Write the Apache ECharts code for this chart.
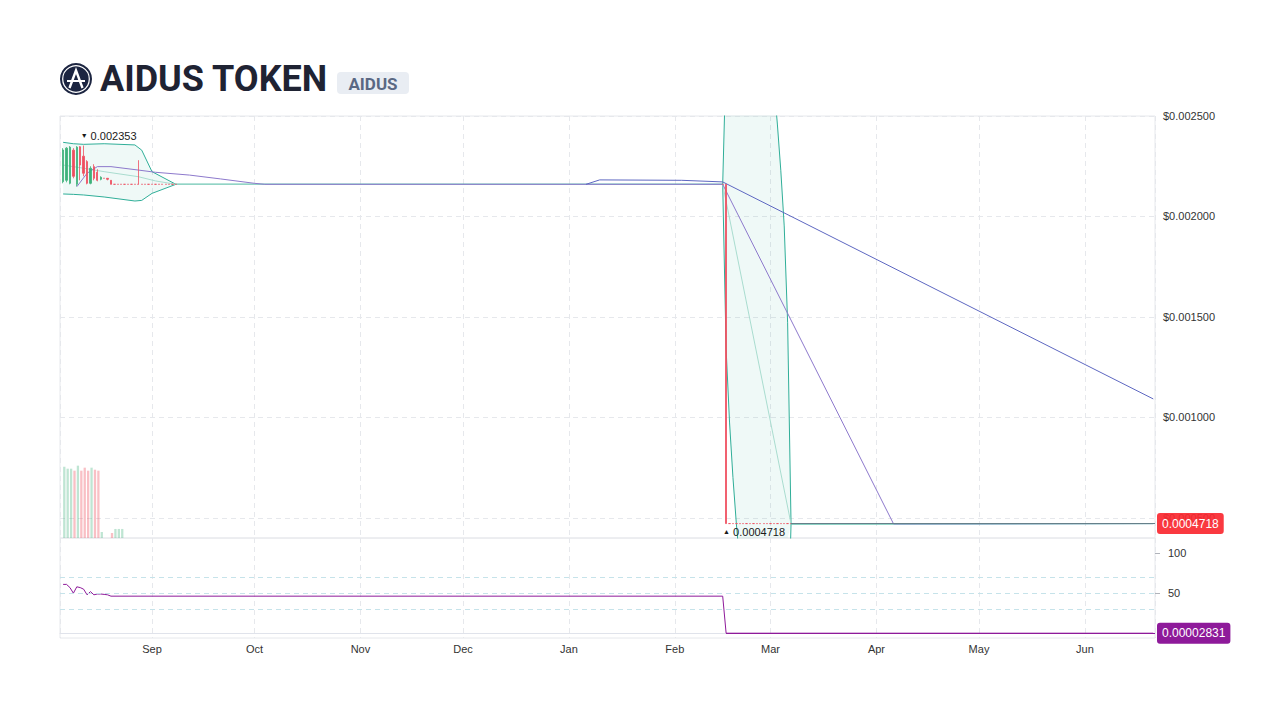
<!DOCTYPE html>
<html><head><meta charset="utf-8">
<script src="https://cdn.jsdelivr.net/npm/echarts@6/dist/echarts.min.js"></script>
<style>html,body{margin:0;padding:0;background:#fff}#c{width:1280px;height:720px}</style>
</head><body><div id="c"></div>
<script>
// ---------- DATA ----------
const title = 'AIDUS TOKEN';
const ticker = 'AIDUS';
const xStart = '2024-08-05 02:00';
const xEnd = '2025-06-21 12:00';
const monthNames = ['Jan','Feb','Mar','Apr','May','Jun','Jul','Aug','Sep','Oct','Nov','Dec'];
const priceTicks = [0.0005, 0.001, 0.0015, 0.002, 0.0025];
const rsiTicks = [50, 100];
const rsiGuides = [30, 50, 70];

// [date, open, close, low, high]
const candles = [
  ['2024-08-06',0.002173,0.002331,0.002165,0.002340],
  ['2024-08-07',0.002180,0.002340,0.002170,0.002345],
  ['2024-08-08',0.002165,0.002345,0.002160,0.002350],
  ['2024-08-09',0.002330,0.002200,0.002190,0.002340],
  ['2024-08-10',0.002160,0.002345,0.002150,0.002350],
  ['2024-08-11',0.002347,0.002256,0.002180,0.002350],
  ['2024-08-12',0.002300,0.002215,0.002200,0.002353],
  ['2024-08-13',0.002273,0.002165,0.002160,0.002280],
  ['2024-08-14',0.002165,0.002240,0.002160,0.002250],
  ['2024-08-15',0.002248,0.002190,0.002180,0.002260],
  ['2024-08-16',0.002220,0.002180,0.002175,0.002235],
  ['2024-08-17',0.002185,0.002195,0.002180,0.002200],
  ['2024-08-18',0.002190,0.002190,0.002190,0.002190],
  ['2024-08-19',0.002190,0.002185,0.002180,0.002190],
  ['2024-08-20',0.002180,0.002160,0.002160,0.002180],
  ['2024-08-21',0.00216,0.00216,0.00216,0.00216],
  ['2024-08-22',0.00216,0.00216,0.00216,0.00216],
  ['2024-08-23',0.00216,0.00216,0.00216,0.00216],
  ['2024-08-24',0.00216,0.00216,0.00216,0.00216],
  ['2024-08-25',0.00216,0.00216,0.00216,0.00216],
  ['2024-08-26',0.00216,0.00216,0.00216,0.00216],
  ['2024-08-27',0.00216,0.00216,0.00216,0.00216],
  ['2024-08-28',0.00216,0.00216,0.00216,0.00228],
  ['2024-08-29',0.00216,0.00216,0.00216,0.00216],
  ['2024-08-30',0.00216,0.00216,0.00216,0.00216],
  ['2024-08-31',0.00216,0.00216,0.00216,0.00216],
  ['2024-09-01',0.00216,0.00216,0.00216,0.00216],
  ['2024-09-02',0.00216,0.00216,0.00216,0.00216],
  ['2024-09-03',0.00216,0.00216,0.00216,0.00216],
  ['2024-09-04',0.00216,0.00216,0.00216,0.00216],
  ['2024-09-05',0.00216,0.00216,0.00216,0.00216],
  ['2024-09-06',0.00216,0.00216,0.00216,0.00216],
  ['2024-09-07',0.00216,0.00216,0.00216,0.00216],
  ['2024-09-08',0.00216,0.00216,0.00216,0.00216],
  ['2025-02-15',0.00216,0.00216,0.00216,0.00216],
  ['2025-02-16',0.00216,0.0004718,0.0004718,0.00216],
  ['2025-02-17',0.0004718,0.0004718,0.0004718,0.0004718],
  ['2025-02-18',0.0004718,0.0004718,0.0004718,0.0004718],
  ['2025-02-19',0.0004718,0.0004718,0.0004718,0.0004718],
  ['2025-02-20',0.0004718,0.0004718,0.0004718,0.0004718],
  ['2025-02-21',0.0004718,0.0004718,0.0004718,0.0004718],
  ['2025-02-22',0.0004718,0.0004718,0.0004718,0.0004718],
  ['2025-02-23',0.0004718,0.0004718,0.0004718,0.0004718],
  ['2025-02-24',0.0004718,0.0004718,0.0004718,0.0004718],
  ['2025-02-25',0.0004718,0.0004718,0.0004718,0.0004718],
  ['2025-02-26',0.0004718,0.0004718,0.0004718,0.0004718],
  ['2025-02-27',0.0004718,0.0004718,0.0004718,0.0004718],
  ['2025-02-28',0.0004718,0.0004718,0.0004718,0.0004718],
  ['2025-03-01',0.0004718,0.0004718,0.0004718,0.0004718],
  ['2025-03-02',0.0004718,0.0004718,0.0004718,0.0004718],
  ['2025-03-03',0.0004718,0.0004718,0.0004718,0.0004718],
  ['2025-03-04',0.0004718,0.0004718,0.0004718,0.0004718],
  ['2025-03-05',0.0004718,0.0004718,0.0004718,0.0004718],
  ['2025-03-06',0.0004718,0.0004718,0.0004718,0.0004718],
  ['2025-03-07',0.0004718,0.0004718,0.0004718,0.0004718]
];

// [date, volume, direction(1 up / -1 down)]
const volumes = [
  ['2024-08-06',71,1],['2024-08-07',69,1],['2024-08-08',69,1],['2024-08-09',67,-1],
  ['2024-08-10',72,1],['2024-08-11',67,-1],['2024-08-12',70,-1],['2024-08-13',67,-1],
  ['2024-08-14',70,1],['2024-08-15',68,-1],['2024-08-16',67,-1],['2024-08-17',6,1],
  ['2024-08-20',5,-1],['2024-08-21',9,1],['2024-08-22',9,1],['2024-08-23',9,1]
];

// Bollinger bands (20, 2)
const bbDates  = ['2024-08-06','2024-08-09','2024-08-12','2024-08-18','2024-08-27','2024-08-29','2024-09-01','2024-09-08',
                  '2025-02-15','2025-02-16','2025-02-17','2025-02-18','2025-02-19','2025-02-20','2025-02-24','2025-02-28',
                  '2025-03-01','2025-03-02','2025-03-03','2025-03-04','2025-03-05','2025-03-06','2025-03-07','2025-06-21'];
const bbUpper  = [0.002369,0.002362,0.002359,0.002362,0.002356,0.002330,0.002223,0.00216,
                  0.00216,0.00281,0.00300,0.00311,0.00317,0.00320,0.00314,0.00267,
                  0.00253,0.002357,0.00216,0.00193,0.001653,0.001291,0.00047,0.0004718];
const bbLower  = [0.002112,0.002110,0.002107,0.002097,0.002077,0.002080,0.002115,0.00216,
                  0.00216,0.00134,0.000977,0.000701,0.00047,0.000274,-0.0003,-0.0003,
                  -0.0003,-0.0003,-0.0003,-0.0003,-0.0003,-0.00018,0.00047,0.0004718];
const bbMidDates = ['2024-08-06','2024-08-12','2024-08-18','2024-08-28','2024-09-02','2024-09-08','2025-02-15','2025-03-07','2025-06-21'];
const bbMiddle   = [0.002256,0.002240,0.002223,0.002198,0.002177,0.00216,0.00216,0.00047,0.0004718];

const ma50Dates = ['2024-08-10','2024-08-13','2024-08-16','2024-08-20','2024-08-28','2024-09-02','2024-09-12','2024-09-21','2024-10-01','2024-10-04','2025-02-15','2025-04-06','2025-06-21'];
const ma50 =      [0.002148,0.002215,0.002248,0.002248,0.002231,0.002220,0.002206,0.002187,0.002165,0.00216,0.00216,0.00047,0.0004718];
const ma200Dates = ['2025-01-06','2025-01-10','2025-02-03','2025-02-15','2025-06-21'];
const ma200 =      [0.00216,0.002182,0.002180,0.002172,0.001092];

const rsiDates = ['2024-08-06','2024-08-07','2024-08-08','2024-08-09','2024-08-10','2024-08-11','2024-08-12','2024-08-13','2024-08-14','2024-08-15','2024-08-16','2024-08-17','2024-08-18','2024-08-19','2024-08-20','2025-02-15','2025-02-16','2025-06-21'];
const rsiVals  = [61,61,57,50,58,57,55,48,52,48,49,49,48.5,48,46.3,46.3,0.00002831,0.00002831];

// ---------- CHART ----------
const P = s => echarts.time.parse(s).getTime();
const L = 60, R = 1280 - 1155, MT = 116, MH = 422, RT = 538, RH = 100;
const DAY = 86400000;
const gridLine = { show: true, lineStyle: { color: '#e6e8ec', type: [5, 4], width: 1 } };
const axisFont = { color: '#333', fontSize: 11, fontFamily: 'Liberation Sans, Arial, sans-serif' };

const xBase = (gi, showLabel) => ({
  type: 'time', gridIndex: gi, min: P(xStart), max: P(xEnd),
  minInterval: 28 * DAY, maxInterval: 31 * DAY, splitNumber: 12,
  axisLine: { show: showLabel, lineStyle: { color: '#e0e3eb' } },
  axisTick: { show: false },
  axisLabel: Object.assign({ show: showLabel, margin: 5, hideOverlap: false,
    formatter: v => monthNames[new Date(v).getMonth()] }, axisFont),
  splitLine: gi === 1 ? { show: false } : gridLine
});

const lastCandle = candles[candles.length - 1];
const hiCandle = candles.reduce((a, b) => (b[4] > a[4] ? b : a));
const loCandle = candles.reduce((a, b) => (b[3] < a[3] ? b : a));
const green = '#3db17a', red = '#ef4f5f';
const teal = '#2fae98';
const rsiColor = '#8e1a9a';
const lastRsi = rsiVals[rsiVals.length - 1];

const line = (name, dates, vals, color, width, z) => ({
  name, type: 'line', xAxisIndex: 0, yAxisIndex: 0, showSymbol: false, z: z || 3,
  data: dates.map((d, i) => [d, vals[i]]), lineStyle: { color, width: width || 1 }, silent: true
});

const chart = echarts.init(document.getElementById('c'), null, { renderer: 'svg' });
chart.setOption({
  animation: false,
  backgroundColor: '#fff',
  textStyle: { fontFamily: 'Liberation Sans, Arial, sans-serif' },
  graphic: [
    { type: 'circle', shape: { cx: 76, cy: 79, r: 16 }, style: { fill: '#1c2541' } },
    { type: 'circle', shape: { cx: 76, cy: 79, r: 13.3 }, style: { fill: 'none', stroke: '#fff', lineWidth: 1.2 } },
    { type: 'polyline', shape: { points: [[69.5, 88], [76, 70.5], [82.5, 88]] }, style: { fill: 'none', stroke: '#fff', lineWidth: 2.4 } },
    { type: 'line', shape: { x1: 67, y1: 81, x2: 85, y2: 81 }, style: { stroke: '#fff', lineWidth: 2 } },
    { type: 'text', x: 100, y: 79, style: { text: title, fill: '#1f2333', font: 'bold 36px Roboto, sans-serif', verticalAlign: 'middle' } },
    { type: 'rect', shape: { x: 337, y: 72, width: 72, height: 22, r: 4 }, style: { fill: '#e9edf3' } },
    { type: 'text', x: 373, y: 83.5, style: { text: ticker, fill: '#5a6883', font: 'bold 17px Roboto, sans-serif', align: 'center', verticalAlign: 'middle' } }
  ],
  grid: [
    { left: L, right: R, top: MT, height: MH, show: true, borderColor: '#e6e8ec', borderWidth: 1 },
    { left: L, right: R, top: MT, height: MH },
    { left: L, right: R, top: RT, height: RH, show: true, borderColor: '#e6e8ec', borderWidth: 1 }
  ],
  xAxis: [xBase(0, false), xBase(1, false), xBase(2, true)],
  yAxis: [
    { type: 'value', gridIndex: 0, position: 'right', min: 0.0004, max: 0.0025,
      axisLine: { show: false }, axisTick: { show: false, customValues: priceTicks },
      axisLabel: Object.assign({ customValues: priceTicks, margin: 8, formatter: v => '$' + v.toFixed(6) }, axisFont),
      splitLine: gridLine },
    { type: 'value', gridIndex: 1, min: 0, max: 420, show: false },
    { type: 'value', gridIndex: 2, position: 'right', min: -6, max: 119,
      axisLine: { show: false },
      axisTick: { show: true, customValues: rsiTicks, length: 5, lineStyle: { color: '#b0b3ba' } },
      axisLabel: Object.assign({ customValues: rsiTicks, margin: 13 }, axisFont),
      splitLine: { show: false } }
  ],
  series: [
    { name: 'Volume', type: 'bar', xAxisIndex: 1, yAxisIndex: 1, barWidth: 2.3, silent: true, z: 1,
      data: volumes.map(v => [v[0], v[1], v[2]]), encode: { x: 0, y: 1 },
      itemStyle: { color: p => (p.data[2] > 0 ? 'rgba(61,177,122,0.33)' : 'rgba(239,79,95,0.36)') } },
    { name: 'BB lower', type: 'line', xAxisIndex: 0, yAxisIndex: 0, stack: 'bb', showSymbol: false, silent: true, z: 2,
      data: bbDates.map((d, i) => [d, bbLower[i]]), lineStyle: { color: teal, width: 1 } },
    { name: 'BB upper', type: 'line', xAxisIndex: 0, yAxisIndex: 0, stack: 'bb', showSymbol: false, silent: true, z: 2,
      data: bbDates.map((d, i) => [d, bbUpper[i] - bbLower[i]]), lineStyle: { color: teal, width: 1 },
      areaStyle: { color: 'rgba(47,174,152,0.11)' } },
    line('BB basis', bbMidDates, bbMiddle, '#a9dccf', 1, 2),
    line('MA 50', ma50Dates, ma50, '#8d79cc', 1, 3),
    line('MA 200', ma200Dates, ma200, '#5d67c1', 1, 3),
    { name: 'Price', type: 'candlestick', xAxisIndex: 0, yAxisIndex: 0, barWidth: 1.8, z: 4, silent: true,
      data: candles, encode: { x: 0, y: [1, 2, 3, 4] },
      itemStyle: { color: green, color0: red, borderColor: green, borderColor0: red, borderColorDoji: red, borderWidth: 0.8 },
      markPoint: {
        symbolSize: 0, silent: true,
        label: { show: true, position: 'inside', align: 'left', verticalAlign: 'middle', color: '#1a1a1a', fontSize: 11,
          rich: { t: { fontSize: 7, color: '#1a1a1a' } } },
        data: [
          { coord: [hiCandle[0], hiCandle[4]], label: { formatter: '{t|▼} ' + hiCandle[4].toFixed(6), offset: [-3, -10] } },
          { coord: [loCandle[0], loCandle[3]], label: { formatter: '{t|▲} ' + loCandle[3], offset: [-3, 8] } }
        ]
      },
      markLine: {
        symbol: 'none', silent: true,
        lineStyle: { color: '#66808a', type: 'solid', width: 1 },
        label: { show: true, position: 'end', distance: 2, formatter: String(lastCandle[2]), color: '#fff',
          backgroundColor: 'rgba(250,40,48,0.92)', padding: [5, 5, 4, 5], borderRadius: 3, fontSize: 12 },
        data: [[{ coord: [lastCandle[0], lastCandle[2]] }, { coord: [P(xEnd), lastCandle[2]] }]]
      } },
    { name: 'RSI', type: 'line', xAxisIndex: 2, yAxisIndex: 2, showSymbol: false, silent: true, z: 3,
      data: rsiDates.map((d, i) => [d, rsiVals[i]]), lineStyle: { color: rsiColor, width: 1 },
      markLine: {
        symbol: 'none', silent: true,
        lineStyle: { color: rsiColor, type: 'solid', width: 1 },
        label: { show: true, position: 'end', distance: 2, formatter: String(lastRsi), color: '#fff',
          backgroundColor: rsiColor, padding: [5, 5, 4, 5], borderRadius: 3, fontSize: 12 },
        data: [[{ coord: [rsiDates[rsiDates.length - 2], lastRsi] }, { coord: [P(xEnd), lastRsi] }]]
          .concat(rsiGuides.map(v => ({ yAxis: v, label: { show: false },
            lineStyle: { color: '#c6e3ea', type: [5, 4], width: 1 } })))
      } }
  ]
});
</script></body></html>
